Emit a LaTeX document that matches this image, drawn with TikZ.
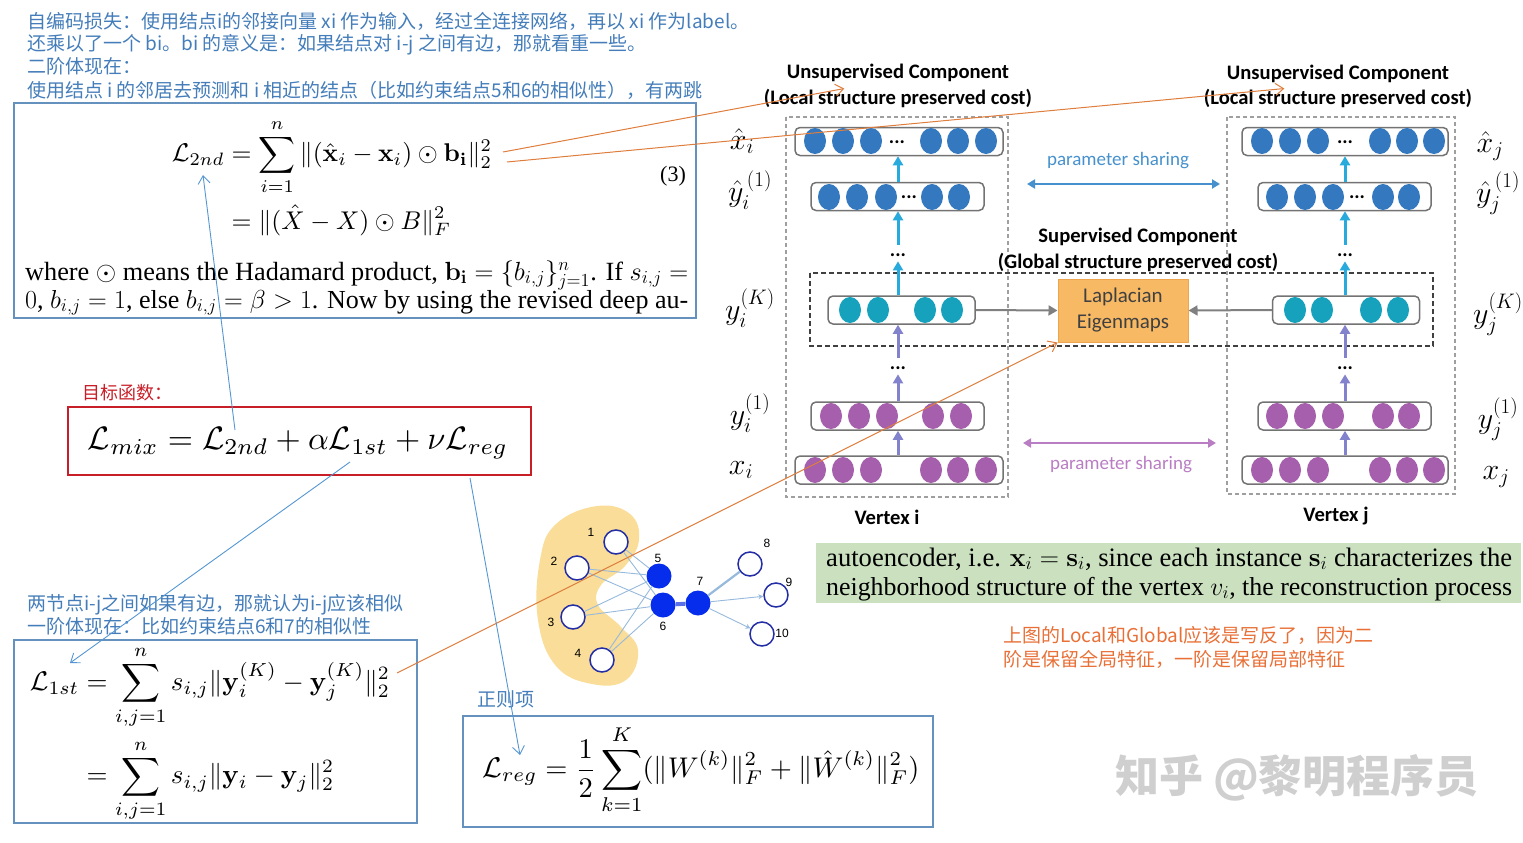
\RequirePackage{fix-cm}
\documentclass[tikz,border=0pt]{standalone}
\usepackage[no-math]{fontspec}
\usepackage{amsmath}
\usepackage{graphicx}
\setmainfont{Liberation Serif}
\newfontfamily\cjk{Noto Sans CJK SC}
\newfontfamily\cali{Carlito}
\newfontfamily\lsans{Liberation Sans}
\usetikzlibrary{arrows.meta}
\definecolor{noteblue}{RGB}{68,125,185}
\definecolor{framebl}{RGB}{100,145,190}
\definecolor{redmark}{RGB}{200,30,40}
\definecolor{orline}{RGB}{222,125,60}
\definecolor{ortext}{RGB}{232,112,55}
\definecolor{linkbl}{RGB}{85,150,210}
\definecolor{unitblue}{RGB}{52,120,192}
\definecolor{unitteal}{RGB}{22,162,188}
\definecolor{unitpurple}{RGB}{165,95,172}
\definecolor{uparrow}{RGB}{40,170,220}
\definecolor{lowarrow}{RGB}{130,130,205}
\definecolor{layergray}{RGB}{115,115,115}
\definecolor{lapfill}{RGB}{248,185,100}
\definecolor{lapedge}{RGB}{238,165,80}
\definecolor{sharebl}{RGB}{70,145,205}
\definecolor{sharepu}{RGB}{185,125,195}
\definecolor{paperbg}{RGB}{202,224,191}
\definecolor{blobfill}{RGB}{249,221,152}
\definecolor{edgebl}{RGB}{150,185,220}
\definecolor{vtxnavy}{RGB}{35,45,165}
\definecolor{vtxfill}{RGB}{5,45,235}

\begin{document}
\begin{tikzpicture}[x=1pt, y=-1pt,
    note/.style={anchor=base west, inner sep=0, text=noteblue, font=\cjk\fontsize{19}{23}\selectfont},
    fbox/.style={draw=framebl, line width=1.2, inner sep=0},
    paper/.style={anchor=base west, inner sep=0, font=\fontsize{22}{26}\selectfont},
    layer/.style={draw=layergray, line width=1.5, rounded corners=5, fill=white, minimum height=28, inner sep=0},
    grpbox/.style={draw=gray!75, line width=1.1, dash pattern=on 4 off 3},
    upc/.style={draw=uparrow, line width=3, -{Triangle[length=9,width=10]}},
    upp/.style={draw=lowarrow, line width=3, -{Triangle[length=9,width=10]}},
    grayarr/.style={draw=gray, line width=2, -{Triangle[length=9,width=10]}},
    title/.style={inner sep=0, font=\cali\bfseries\fontsize{20.6}{20.6}\selectfont},
    lbl/.style={inner sep=0, font=\fontsize{30}{30}\selectfont},
    rowdots/.style={anchor=base, inner sep=0, font=\cali\bfseries\fontsize{20}{20}\selectfont},
    orarr/.style={draw=orline, line width=1, -{Straight Barb[length=8,width=12]}},
    linkarr/.style={draw=linkbl, line width=0.9, -{Straight Barb[length=8,width=12]}},
    vtx/.style={circle, draw=vtxnavy, line width=1.5, fill=white, minimum size=24, inner sep=0},
    vtxon/.style={circle, fill=vtxfill, minimum size=25, inner sep=0},
    num/.style={inner sep=0, font=\lsans\fontsize{12}{12}\selectfont},
    edge/.style={draw=edgebl, line width=0.9}]
\useasboundingbox (0,0) rectangle (1523,843);

% notes
\node[note] (t1) at (27,29) {自编码损失：使用结点i的邻接向量 xi 作为输入，经过全连接网络，再以 xi 作为label。};
\node[note] (t2) at (27,51) {还乘以了一个 bi。bi 的意义是：如果结点对 i-j 之间有边，那就看重一些。};
\node[note] (t3) at (27,74) {二阶体现在：};
\node[note] (t4) at (27,97) {使用结点 i 的邻居去预测和 i 相近的结点（比如约束结点5和6的相似性），有两跳};

% second order box
\node[fbox, minimum width=682, minimum height=215] (box2nd) at (355,210.5) {};
\node[inner sep=0] (eq2nd) at (332,179) {\resizebox{320pt}{!}{$\begin{aligned}
    \mathcal{L}_{2nd} &= \sum_{i=1}^{n}\|(\hat{\mathbf{x}}_i-\mathbf{x}_i)\odot\mathbf{b_i}\|_2^2\\
                      &= \|(\hat{X}-X)\odot B\|_F^2\end{aligned}$}};
\node[inner sep=0, font=\fontsize{22}{26}\selectfont] (eqno) at (673,176) {(3)};
\node[paper] (p1) at (25,280) {\resizebox{663pt}{!}{where $\odot$ means the Hadamard product, $\mathbf{b_i}=\{b_{i,j}\}_{j=1}^{n}$. If $s_{i,j}=$}};
\node[paper] (p2) at (25,308) {\resizebox{663pt}{!}{$0$, $b_{i,j}=1$, else $b_{i,j}=\beta>1$. Now by using the revised deep au-}};

% objective
\node[anchor=base west, inner sep=0, text=redmark, font=\cjk\fontsize{18}{22}\selectfont] (goal) at (82,399) {目标函数：};
\node[draw=redmark, line width=1.2, minimum width=463, minimum height=68, inner sep=0] (boxmix) at (299.5,441) {};
\node[inner sep=0] (eqmix) at (298,443) {\resizebox{420pt}{!}{$\mathcal{L}_{mix}=\mathcal{L}_{2nd}+\alpha\mathcal{L}_{1st}+\nu\mathcal{L}_{reg}$}};

% first order
\node[note] (t5) at (27,610) {两节点i-j之间如果有边，那就认为i-j应该相似};
\node[note] (t6) at (27,633) {一阶体现在：比如约束结点6和7的相似性};
\node[fbox, minimum width=403, minimum height=183] (box1st) at (215.5,731.5) {};
\node[inner sep=0] (eq1st) at (210,734) {\resizebox{360pt}{!}{$\begin{aligned}
    \mathcal{L}_{1st} &= \sum_{i,j=1}^{n} s_{i,j}\|\mathbf{y}_i^{(K)}-\mathbf{y}_j^{(K)}\|_2^2\\
                      &= \sum_{i,j=1}^{n} s_{i,j}\|\mathbf{y}_i-\mathbf{y}_j\|_2^2\end{aligned}$}};

% regularizer
\node[note] (t7) at (477,706) {正则项};
\node[fbox, minimum width=470, minimum height=111] (boxreg) at (698,771.5) {};
\node[inner sep=0] (eqreg) at (701,770) {\resizebox{437pt}{!}{$\displaystyle\mathcal{L}_{reg}=\frac{1}{2}\sum_{k=1}^{K}(\|W^{(k)}\|_F^2+\|\hat{W}^{(k)}\|_F^2)$}};

% small graph
\fill[blobfill] plot[smooth cycle, tension=0.7] coordinates {(597,506) (630,514) (639,540) (625,566) (601,585) (598,605) (620,626) (638,650) (626,680) (592,684) (556,666) (538,620) (540,560) (556,524)};
\node[vtx]   (g1)  at (616,542) {};
\node[vtx]   (g2)  at (577,568) {};
\node[vtx]   (g3)  at (573,617) {};
\node[vtx]   (g4)  at (602,660) {};
\node[vtxon] (g5)  at (659,576) {};
\node[vtxon] (g6)  at (663,605) {};
\node[vtxon] (g7)  at (698,603) {};
\node[vtx]   (g8)  at (750,564) {};
\node[vtx]   (g9)  at (776,595) {};
\node[vtx]   (g10) at (762,634) {};
\foreach \a in {1,...,4}{\foreach \b in {5,6}{\draw[edge] (g\a) -- (g\b);}}
\draw[draw=edgebl!60!blue, line width=4] (g6) -- (g7);
\draw[edge, line width=2.2] (g7) -- (g8);
\draw[edge, -{Stealth[length=5,width=5]}] (g7) -- (g9);
\draw[edge, -{Stealth[length=5,width=5]}] (g7) -- (g10);
\foreach \n/\x/\y in {1/591/532, 2/554/561, 3/551/622, 4/578/653, 5/658/558, 6/663/626, 7/700/581, 8/767/543, 9/789/582, 10/782/633}
    \node[num] (n\n) at (\x,\y) {\n};

% network: group boxes
\draw[grpbox]                             (786,117) rectangle (1008,497);
\draw[grpbox]                             (1227,117) rectangle (1455,494);
\draw[draw=black!75, line width=1.3, dash pattern=on 5 off 3] (810,273) rectangle (1433,346);

\node[title] (unsI) at (898,73)  {Unsupervised Component};
\node[title] (locI) at (898,98)  {(Local structure preserved cost)};
\node[title] (unsJ) at (1338,74) {Unsupervised Component};
\node[title] (locJ) at (1338,98) {(Local structure preserved cost)};
\node[title] (sup)  at (1138,237) {Supervised Component};
\node[title] (glob) at (1138,262) {(Global structure preserved cost)};

% layers of vertex i
\node[layer, minimum width=208] (xhi) at (899,141.5)  {};
\node[layer, minimum width=173] (yhi) at (897.5,196.5) {};
\node[layer, minimum width=147] (yki) at (901.5,310)  {};
\node[layer, minimum width=173] (y1i) at (897.5,416)  {};
\node[layer, minimum width=208] (xi)  at (899,470)    {};
% layers of vertex j
\node[layer, minimum width=206] (xhj) at (1345,141.5)  {};
\node[layer, minimum width=173] (yhj) at (1344.5,196.5) {};
\node[layer, minimum width=147] (ykj) at (1346,310)    {};
\node[layer, minimum width=173] (y1j) at (1344.5,416)  {};
\node[layer, minimum width=206] (xj)  at (1345,470)    {};

\foreach \x in {815,843,871,931,958,986,1262,1290,1318,1380,1407,1434}
    \fill[unitblue]   (\x,141) ellipse [x radius=11pt, y radius=13pt];
\foreach \x in {829,857,886,932,959,1277,1305,1333,1383,1409}
    \fill[unitblue]   (\x,197) ellipse [x radius=11pt, y radius=13pt];
\foreach \x in {850,878,925,952,1295,1322,1371,1398}
    \fill[unitteal]   (\x,310) ellipse [x radius=11pt, y radius=13pt];
\foreach \x in {831,859,887,933,961,1277,1305,1333,1383,1409}
    \fill[unitpurple] (\x,416) ellipse [x radius=11pt, y radius=13pt];
\foreach \x in {815,843,871,931,958,986,1262,1290,1318,1380,1407,1434}
    \fill[unitpurple] (\x,470) ellipse [x radius=11pt, y radius=13pt];

\node[rowdots] (rdA) at (897,143)  {...};
\node[rowdots] (rdB) at (909,198)  {...};
\node[rowdots] (rdC) at (1345,143) {...};
\node[rowdots] (rdD) at (1357,198) {...};

\node[rowdots] (dIa) at (898,256)  {...};
\node[rowdots] (dIb) at (898,369)  {...};
\node[rowdots] (dJa) at (1345,256) {...};
\node[rowdots] (dJb) at (1345,369) {...};

\draw[upc] (yhi.north -| dIa)     -- (xhi.south -| dIa);
\draw[upc] ([yshift=8pt]dIa.north) -- (yhi.south -| dIa);
\draw[upc] (yki.north -| dIa)     -- ([yshift=-5pt]dIa.south);
\draw[upp] ([yshift=8pt]dIb.north) -- (yki.south -| dIa);
\draw[upp] (y1i.north -| dIb)     -- ([yshift=-5pt]dIb.south);
\draw[upp] (xi.north -| dIb)      -- (y1i.south -| dIb);
\draw[upc] (yhj.north -| dJa)     -- (xhj.south -| dJa);
\draw[upc] ([yshift=8pt]dJa.north) -- (yhj.south -| dJa);
\draw[upc] (ykj.north -| dJa)     -- ([yshift=-5pt]dJa.south);
\draw[upp] ([yshift=8pt]dJb.north) -- (ykj.south -| dJa);
\draw[upp] (y1j.north -| dJb)     -- ([yshift=-5pt]dJb.south);
\draw[upp] (xj.north -| dJb)      -- (y1j.south -| dJb);

\node[draw=lapedge, fill=lapfill, line width=1, minimum width=130, minimum height=63, align=center,
      text=black!75, font=\cali\fontsize{21}{26}\selectfont] (lap) at (1123,310.5) {Laplacian\\Eigenmaps};
\draw[grayarr] (yki.east) -- (lap.west);
\draw[grayarr] (ykj.west) -- (lap.east);

\coordinate (shA1) at (1027,184);
\coordinate (shA2) at (1220,184);
\coordinate (shB1) at (1023,443);
\coordinate (shB2) at (1216,443);
\draw[draw=sharebl, line width=2, {Triangle[length=8,width=9]}-{Triangle[length=8,width=9]}] (shA1) -- (shA2);
\draw[draw=sharepu, line width=2, {Triangle[length=8,width=9]}-{Triangle[length=8,width=9]}] (shB1) -- (shB2);
\node[inner sep=0, text=sharebl, font=\cali\fontsize{19}{19}\selectfont] (psA) at (1118,161) {parameter sharing};
\node[inner sep=0, text=sharepu, font=\cali\fontsize{19}{19}\selectfont] (psB) at (1121,465) {parameter sharing};

\node[title] (vxi) at (887,517)  {Vertex i};
\node[title] (vxj) at (1336,516) {Vertex j};

\node[lbl] (lxhi) at (742,141)  {$\hat{x}_i$};
\node[lbl] (lyhi) at (750,190)  {$\hat{y}_i^{\,(1)}$};
\node[lbl] (lyki) at (750,308)  {$y_i^{(K)}$};
\node[lbl] (ly1i) at (750,413)  {$y_i^{(1)}$};
\node[lbl] (lxi)  at (741,470)  {$x_i$};
\node[lbl] (lxhj) at (1490,146) {$\hat{x}_j$};
\node[lbl] (lyhj) at (1498,193) {$\hat{y}_j^{\,(1)}$};
\node[lbl] (lykj) at (1498,314) {$y_j^{(K)}$};
\node[lbl] (ly1j) at (1498,419) {$y_j^{(1)}$};
\node[lbl] (lxj)  at (1496,477) {$x_j$};

% paper excerpt and remark
\node[fill=paperbg, minimum width=705, minimum height=60, inner sep=0] (green) at (1168.5,573) {};
\node[paper] (g1l) at (826,566) {\resizebox{686pt}{!}{autoencoder, i.e. $\mathbf{x}_i=\mathbf{s}_i$, since each instance $\mathbf{s}_i$ characterizes the}};
\node[paper] (g2l) at (826,595) {\resizebox{686pt}{!}{neighborhood structure of the vertex $v_i$, the reconstruction process}};
\node[anchor=base west, inner sep=0, text=ortext, font=\cjk\fontsize{19}{24}\selectfont] (rm1) at (1003,642) {上图的Local和Global应该是写反了，因为二};
\node[anchor=base west, inner sep=0, text=ortext, font=\cjk\fontsize{19}{24}\selectfont] (rm2) at (1003,666) {阶是保留全局特征，一阶是保留局部特征};

\node[inner sep=0, text=gray!38, font=\cjk\bfseries\fontsize{44}{44}\selectfont] (wm) at (1297,778) {知乎 @黎明程序员};

% connectors
\coordinate (c2ndA) at (503,152);
\coordinate (c2ndB) at (507,162);
\coordinate (c1st)  at (397,673);
\coordinate (mL2)   at (235,430);
\coordinate (mL1)   at (350,462);
\coordinate (mLr)   at (470,478);
\coordinate (hit2)  at (203,175);
\coordinate (hit1)  at (70,663);
\coordinate (hitr)  at (520,755);
\draw[orarr] (c2ndA) -- (locI.170);
\draw[orarr] (c2ndB) -- (locJ.170);
\draw[orarr] (c1st)  -- (lap.south west);
\draw[linkarr] (mL2) -- (hit2);
\draw[linkarr] (mL1) -- (hit1);
\draw[linkarr] (mLr) -- (hitr);
\end{tikzpicture}
\end{document}
